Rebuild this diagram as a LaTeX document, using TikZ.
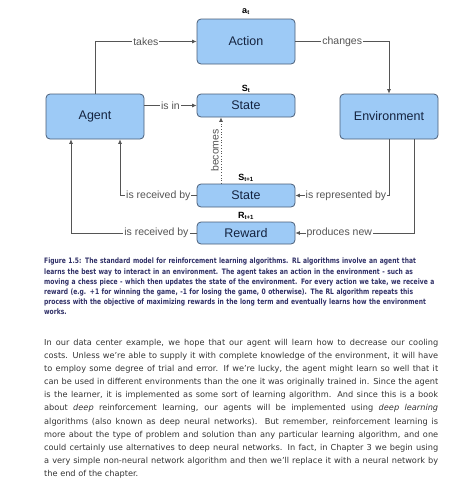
\documentclass[tikz,border=0pt]{standalone}
\usepackage{fontspec}
\usepackage{xcolor}
\usepackage{tikz}
\usetikzlibrary{arrows.meta}
\usetikzlibrary{positioning}
\newfontfamily\diafont{Liberation Sans}
\newfontfamily\capfont[FakeStretch=0.8]{DejaVu Sans}
\newfontfamily\bodyfont{DejaVu Sans}
\definecolor{boxfill}{HTML}{9DCAF6}
\definecolor{boxline}{HTML}{4A5E78}
\definecolor{boxtext}{HTML}{14233F}
\definecolor{linecol}{HTML}{555555}
\definecolor{captext}{HTML}{2F2F66}
\definecolor{bodytext}{HTML}{333333}
\tikzstyle{box} = [draw=boxline, fill=boxfill, line width=0.8pt, rounded corners=4pt,
minimum width=98pt, inner sep=0pt, text=boxtext, font=\diafont\fontsize{12.5}{14}\selectfont]
\tikzstyle{bigbox} = [box, minimum height=45pt]
\tikzstyle{smallbox} = [box, minimum height=23pt]
\tikzstyle{lbl} = [fill=white, inner sep=1pt, text=linecol, font=\diafont\fontsize{10.5}{12}\selectfont]
\tikzstyle{sub} = [inner sep=0pt, text=black, font=\diafont\bfseries\fontsize{9}{10}\selectfont]
\tikzstyle{link} = [draw=linecol, line width=0.7pt, -{Latex[length=4.5pt,width=4pt]}]

\begin{document}
\begin{tikzpicture}[x=1pt, y=-1pt]
        \useasboundingbox (0,0) rectangle (474,496);
        \node [bigbox] (action) at (246,41.5) {Action};
        \node [smallbox] (state) at (246,105.5) {State};
        \node [bigbox] (agent) at (95,116.5) {Agent};
        \node [bigbox] (env) at (389,116.5) {Environment};
        \node [smallbox] (next) at (246,195.5) {State};
        \node [smallbox, minimum height=22pt] (reward) at (246,233) {Reward};
        \node [sub] (at) at (246,12) {a\textsubscript{t}};
        \node [sub] (st) at (246,88.5) {S\textsubscript{t}};
        \node [sub] (snext) at (246,177.5) {S\textsubscript{t+1}};
        \node [sub] (rnext) at (246,215.5) {R\textsubscript{t+1}};

        \draw [link] (agent.north) |- node[lbl, pos=0.75]{takes} (action.west);
        \draw [link] (action.east) -| node[lbl, pos=0.25]{changes} (env.north);
        \draw [link] (agent.east |- state.west) -- node[lbl]{is in} (state.west);
        \draw [link, dotted] ([xshift=-25pt]next.north) -- node[midway, sloped, above=2pt, inner sep=0pt,
            text=linecol, font=\diafont\fontsize{10.5}{12}\selectfont]{becomes} ([xshift=-25pt]state.south);
        \draw [link] (next.west) -| node[lbl, pos=0.25]{is received by} ([xshift=25pt]agent.south);
        \draw [link] (reward.west) -| node[lbl, pos=0.16]{is received by} ([xshift=-24pt]agent.south);
        \draw [link] (env.south) |- node[lbl, pos=0.73]{is represented by} (next.east);
        \draw [link] ([xshift=25pt]env.south) |- node[lbl, pos=0.815]{produces new} (reward.east);

        \node [anchor=north west, inner sep=0pt, text width=400pt, align=left, text=captext,
            font=\capfont\bfseries\fontsize{7.5}{10.1}\selectfont] (caption) at (44,258) {%
            Figure 1.5: The standard model for reinforcement learning algorithms. RL algorithms involve an agent that\\
            learns the best way to interact in an environment. The agent takes an action in the environment - such as\\
            moving a chess piece - which then updates the state of the environment. For every action we take, we receive a\\
            reward (e.g. +1 for winning the game, -1 for losing the game, 0 otherwise). The RL algorithm repeats this\\
            process with the objective of maximizing rewards in the long term and eventually learns how the environment\\
            works.};
        \node [anchor=north west, inner sep=0pt, text width=394pt, align=justify, text=bodytext,
            font=\bodyfont\fontsize{8.2}{13.1}\selectfont] (body) at (44,339) {%
            In our data center example, we hope that our agent will learn how to decrease our cooling\linebreak
            costs. Unless we’re able to supply it with complete knowledge of the environment, it will have\linebreak
            to employ some degree of trial and error. If we’re lucky, the agent might learn so well that it\linebreak
            can be used in different environments than the one it was originally trained in. Since the agent\linebreak
            is the learner, it is implemented as some sort of learning algorithm. And since this is a book\linebreak
            about \emph{deep} reinforcement learning, our agents will be implemented using \emph{deep learning}\linebreak
            algorithms (also known as deep neural networks). But remember, reinforcement learning is\linebreak
            more about the type of problem and solution than any particular learning algorithm, and one\linebreak
            could certainly use alternatives to deep neural networks. In fact, in Chapter 3 we begin using\linebreak
            a very simple non-neural network algorithm and then we’ll replace it with a neural network by\linebreak
            the end of the chapter.};
    \end{tikzpicture}
\end{document}
